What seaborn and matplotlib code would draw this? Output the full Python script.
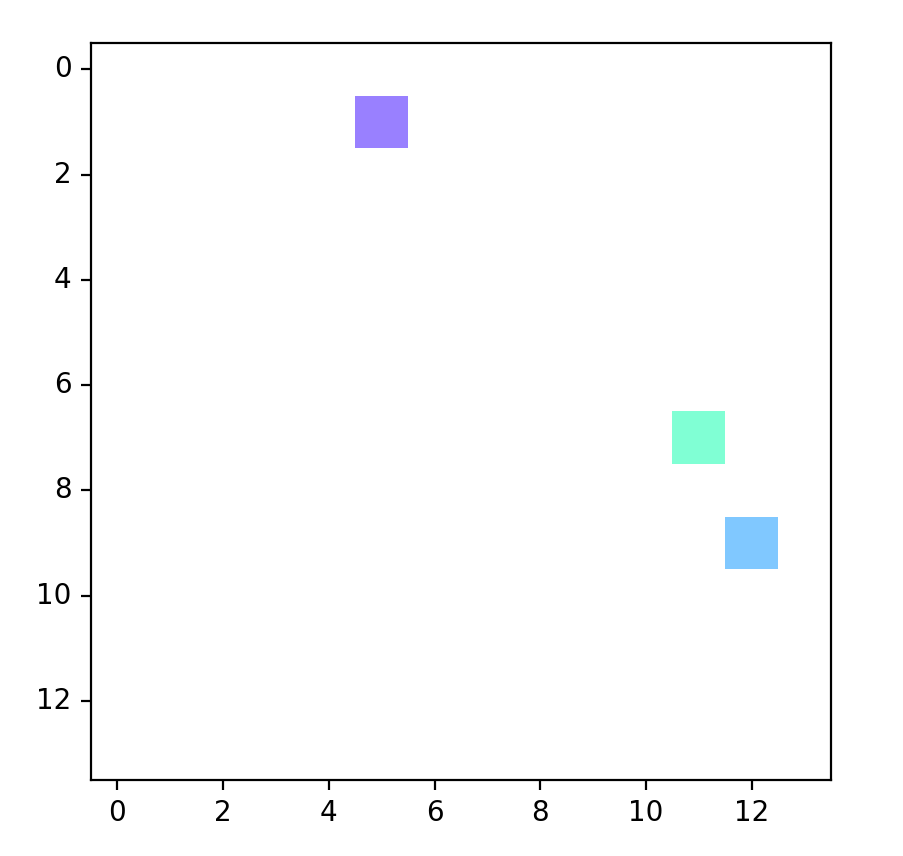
import numpy as np
import pandas as pd
import matplotlib
matplotlib.use("Agg")
import matplotlib.pyplot as plt
from matplotlib.colors import ListedColormap
import seaborn as sns

# Data: grid size and the three filled cells
grid_size = 14
cell_rows = [1, 7, 9]
cell_cols = [5, 11, 12]
cell_values = [0, 1, 2]
cell_colors = ["#9980ff", "#80ffd4", "#80c8ff"]
tick_values = [0, 2, 4, 6, 8, 10, 12]

grid = np.full((grid_size, grid_size), np.nan)
for r, c, v in zip(cell_rows, cell_cols, cell_values):
    grid[r, c] = v
df = pd.DataFrame(grid)

fig = plt.figure(figsize=(4.52, 4.28), dpi=200)
ax = fig.add_axes([0.1007, 0.0888, 0.8186, 0.8610])
sns.heatmap(df, ax=ax, cmap=ListedColormap(cell_colors), vmin=-0.5, vmax=2.5,
            cbar=False, linewidths=0)

ax.set_xlim(0, grid_size)
ax.set_ylim(grid_size, 0)
ax.set_xticks([t + 0.5 for t in tick_values])
ax.set_xticklabels([str(t) for t in tick_values], rotation=0)
ax.set_yticks([t + 0.5 for t in tick_values])
ax.set_yticklabels([str(t) for t in tick_values], rotation=0)
ax.tick_params(length=3.5, width=0.8, labelsize=10, color="black", labelcolor="black")
ax.set_xlabel("")
ax.set_ylabel("")
for s in ax.spines.values():
    s.set_visible(True)
    s.set_linewidth(0.8)
    s.set_color("black")

fig.savefig("out.png", dpi=200)
